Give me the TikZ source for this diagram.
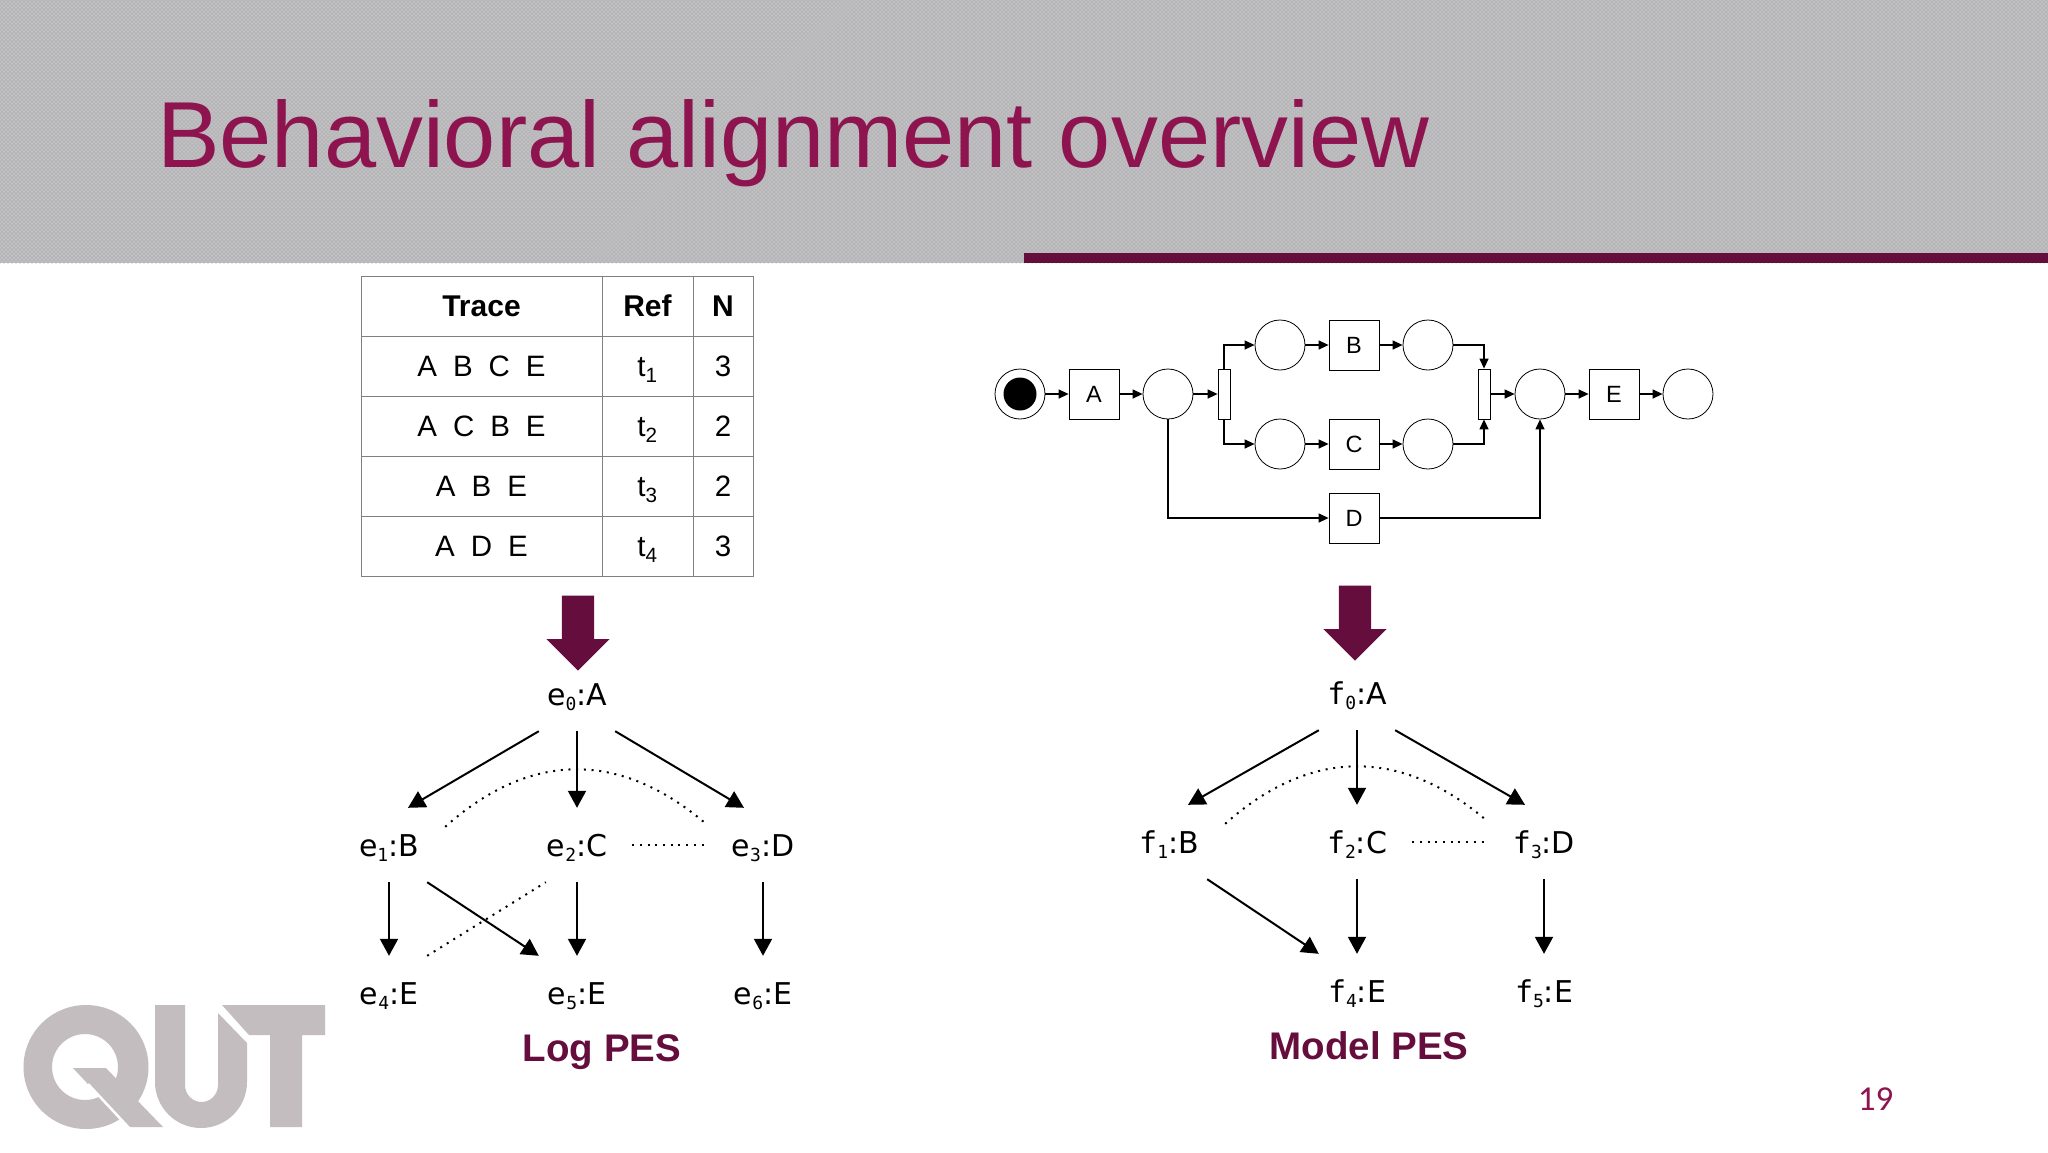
\documentclass[tikz,border=0pt]{standalone}
\usepackage{fontspec}
\setmainfont{Liberation Sans}
\newfontfamily\pesfont{DejaVu Sans}
\newfontfamily\submono{DejaVu Sans Mono}
\newfontfamily\pagefont{Carlito}
\usetikzlibrary{arrows.meta,patterns,shapes.arrows}

\definecolor{titlered}{HTML}{8E1450}
\definecolor{darkred}{HTML}{650D3C}
\definecolor{headgray}{HTML}{B6B6B8}
\definecolor{headdot}{HTML}{D2D2D4}
\definecolor{logogray}{HTML}{C4BDC0}

\newcommand{\gap}{\hspace{16pt}}
\newcommand{\pessub}[1]{\raisebox{-5pt}{\submono\fontsize{18}{18}\selectfont #1}}
\newcommand{\monof}{{\submono f}}

\pgfdeclarepatternformonly{headdots}{\pgfqpoint{-1pt}{-1pt}}{\pgfqpoint{5pt}{5pt}}{\pgfqpoint{4pt}{4pt}}{
  \pgfpathcircle{\pgfqpoint{0pt}{0pt}}{0.75pt}
  \pgfpathcircle{\pgfqpoint{2pt}{2pt}}{0.75pt}
  \pgfusepath{fill}
}

\tikzset{
  cell/.style={draw=gray, rectangle, inner sep=0pt, minimum height=60pt, font=\fontsize{29.5}{30}\selectfont, text height=21pt, text depth=0pt},
  headcell/.style={cell, font=\bfseries\fontsize{30}{30}\selectfont},
  place/.style={draw, circle, thick, inner sep=0pt, minimum size=50pt},
  trans/.style={draw, rectangle, thick, inner sep=0pt, minimum size=50pt, font=\fontsize{23.5}{24}\selectfont},
  slim/.style={draw, rectangle, thick, inner sep=0pt, minimum width=12pt, minimum height=50pt},
  netarrow/.style={-{Triangle[length=10pt,width=9pt]}, line width=1.3pt},
  pesnode/.style={inner sep=0pt, minimum width=76pt, minimum height=74pt, font=\pesfont\fontsize{30}{30}\selectfont, text height=22pt, text depth=0pt},
  pesarrow/.style={-{Triangle[length=17pt,width=18pt]}, line width=2pt},
  conflict/.style={line width=2pt, dash pattern=on 2pt off 5.7pt},
  bigdown/.style={single arrow, fill=darkred, inner xsep=0pt, inner ysep=16pt, rotate=-90, anchor=tip, minimum height=75pt, single arrow head extend=15.5pt, single arrow tip angle=90},
  pestitle/.style={anchor=base, text=darkred, font=\bfseries\fontsize{38.5}{38.5}\selectfont}
}

\begin{document}
\begin{tikzpicture}[x=1pt,y=-1pt]

\useasboundingbox (0,0) rectangle (2048,1152);
\fill[white] (0,0) rectangle (2048,1152);

% header band
\fill[headgray] (0,0) rectangle (2048,263);
\fill[pattern=headdots, pattern color=headdot] (0,0) rectangle (2048,263);
\fill[darkred] (1024,253) rectangle (2048,263);
\node[anchor=base west, inner sep=0pt, text=titlered, font=\fontsize{93.8}{94}\selectfont] (title) at (157,167) {Behavioral alignment overview};

% the trace table
\node[headcell, minimum width=241pt] (hTrace) at (481.5,306) {Trace};
\node[headcell, minimum width=91pt] (hRef) at (647.5,306) {Ref};
\node[headcell, minimum width=60pt] (hN) at (723,306) {N};
\foreach \i/\y/\seq/\n in {1/366/{A\gap B\gap C\gap E}/3, 2/426/{A\gap C\gap B\gap E}/2, 3/486/{A\gap B\gap E}/2, 4/546/{A\gap D\gap E}/3}{
    \node[cell, minimum width=241pt] (trace\i) at (481.5,\y) {\seq};
    \node[cell, minimum width=91pt] (ref\i) at (647.5,\y) {t\textsubscript{\i}};
    \node[cell, minimum width=60pt] (count\i) at (723,\y) {\n};
}

% the net
\node[place] (start) at (1020,394) {};
\fill (start) circle (16.5pt);
\node[trans] (tA) at (1094,394) {A};
\node[place] (p1) at (1168,394) {};
\node[slim] (split) at (1224,394) {};
\node[place] (p2) at (1280,345) {};
\node[trans] (tB) at (1354,345) {B};
\node[place] (p3) at (1428,345) {};
\node[place] (p4) at (1280,444) {};
\node[trans] (tC) at (1354,444) {C};
\node[place] (p5) at (1428,444) {};
\node[trans] (tD) at (1354,518) {D};
\node[slim] (join) at (1484,394) {};
\node[place] (p6) at (1540,394) {};
\node[trans] (tE) at (1614,394) {E};
\node[place] (p7) at (1688,394) {};

\foreach \a/\b in {start/tA, tA/p1, p1/split, p2/tB, tB/p3, p4/tC, tC/p5, join/p6, p6/tE, tE/p7}{
    \draw[netarrow] (\a) -- (\b);
}
\draw[netarrow] (split.north) |- (p2.west);
\draw[netarrow] (split.south) |- (p4.west);
\draw[netarrow] (p3.east) -| (join.north);
\draw[netarrow] (p5.east) -| (join.south);
\draw[netarrow] (p1.south) |- (tD.west);
\draw[netarrow] (tD.east) -| (p6.south);

% big arrows
\node[bigdown] (logarrow) at (578,671) {};
\node[bigdown] (modelarrow) at (1355,661) {};

% log PES
\node[pesnode] (e0) at (577,694) {e\pessub{0}:A};
\node[pesnode] (e1) at (389,845) {e\pessub{1}:B};
\node[pesnode] (e2) at (577,845) {e\pessub{2}:C};
\node[pesnode] (e3) at (763,845) {e\pessub{3}:D};
\node[pesnode] (e4) at (389,993) {e\pessub{4}:E};
\node[pesnode] (e5) at (577,993) {e\pessub{5}:E};
\node[pesnode] (e6) at (763,993) {e\pessub{6}:E};

\draw[pesarrow] (e0.south west) -- ([xshift=19pt]e1.north);
\draw[pesarrow] (e0.south) -- (e2.north);
\draw[pesarrow] (e0.south east) -- ([xshift=-19pt]e3.north);
\foreach \a/\b in {e1/e4, e2/e5, e3/e6}{
    \draw[pesarrow] (\a.south) -- (\b.north);
}
\draw[pesarrow] (e1.south east) -- (e5.north west);

\draw[conflict] ([shift={(18,19)}]e1.north east) .. controls +(85,-76) and +(-85,-72) .. ([shift={(-20,15)}]e3.north west);
\draw[conflict, shorten <=17pt, shorten >=17pt] (e2.east) -- (e3.west);
\draw[conflict] (e4.north east) -- ([xshift=7pt]e2.south west);

\node[pestitle] (logname) at (602,1061) {Log PES};

% model PES
\node[pesnode] (f0) at (1357,693) {\monof\pessub{0}:A};
\node[pesnode] (f1) at (1169,842) {\monof\pessub{1}:B};
\node[pesnode] (f2) at (1357,842) {\monof\pessub{2}:C};
\node[pesnode] (f3) at (1544,842) {\monof\pessub{3}:D};
\node[pesnode] (f4) at (1357,991) {\monof\pessub{4}:E};
\node[pesnode] (f5) at (1544,991) {\monof\pessub{5}:E};

\draw[pesarrow] (f0.south west) -- ([xshift=19pt]f1.north);
\draw[pesarrow] (f0.south) -- (f2.north);
\draw[pesarrow] (f0.south east) -- ([xshift=-19pt]f3.north);
\foreach \a/\b in {f2/f4, f3/f5}{
    \draw[pesarrow] (\a.south) -- (\b.north);
}
\draw[pesarrow] (f1.south east) -- (f4.north west);

\draw[conflict] ([shift={(18,19)}]f1.north east) .. controls +(85,-76) and +(-85,-72) .. ([shift={(-20,15)}]f3.north west);
\draw[conflict, shorten <=17pt, shorten >=17pt] (f2.east) -- (f3.west);

\node[pestitle] (modelname) at (1369,1059) {Model PES};

% logo
\fill[logogray, even odd rule] (86,1067) ellipse (62.5 and 62) (85,1067) ellipse (33 and 33);
\fill[logogray] (73,1068) -- (106,1068) -- (163,1127) -- (128,1127) -- cycle;
\draw[white, line width=2.5pt] (88,1084) -- (130,1129);
\fill[logogray] (155,1005) -- (185,1005) -- (185,1085) .. controls (185,1094.4) and (192.4,1102) .. (201.5,1102) .. controls (210.6,1102) and (218,1094.4) .. (218,1085) -- (218,1013) -- (247,1043) -- (247,1082) .. controls (247,1107.4) and (226.4,1128) .. (201,1128) .. controls (175.6,1128) and (155,1107.4) .. (155,1082) -- cycle;
\fill[logogray] (222,1005) -- (325,1005) -- (325,1035) -- (302,1035) -- (302,1127) -- (270,1127) -- (270,1035) -- (249,1035) -- cycle;

% page number
\node[anchor=base, inner sep=0pt, text=titlered, font=\pagefont\fontsize{35}{35}\selectfont] (pagenum) at (1875.5,1110) {19};

\end{tikzpicture}
\end{document}
